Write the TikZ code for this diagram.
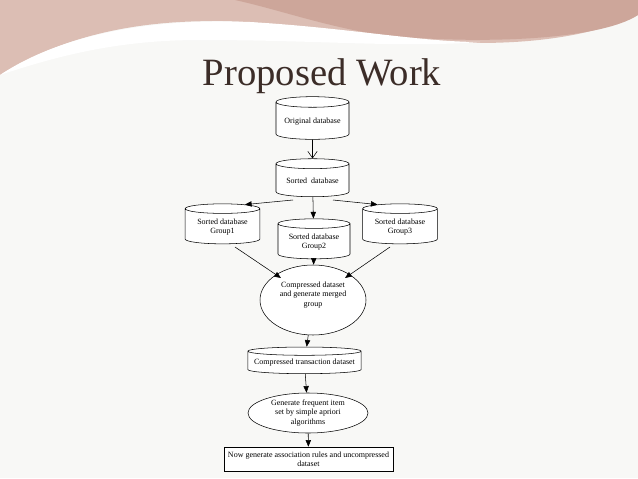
\documentclass[tikz,border=0pt]{standalone}
\usepackage{fontspec}
\setmainfont{Liberation Serif}
\usetikzlibrary{shapes.geometric,arrows.meta}
\definecolor{bg}{RGB}{248,248,246}
\definecolor{wave}{RGB}{205,166,154}
\definecolor{wavel}{RGB}{220,190,180}
\definecolor{ttl}{RGB}{60,45,40}
\begin{document}
\begin{tikzpicture}[x=0.75pt,y=-0.75pt,
  txt/.style={font=\fontsize{6}{7}\selectfont,align=center},
  cyl/.style={txt,draw,fill=white,cylinder,shape border rotate=90,aspect=0.18,inner sep=1pt},
  ell/.style={txt,draw,fill=white,ellipse,inner sep=0pt},
  arr/.style={-{Triangle[length=5pt,width=4pt]}}]
\useasboundingbox (0,0) rectangle (638,478);
\fill[bg] (0,0) rectangle (638,478);
\fill[wavel] (0,0) -- (638,0) -- (638,15) .. controls (560,50) and (450,50) .. (300,27) .. controls (180,12) and (80,25) .. (0,75) -- cycle;
\fill[wave] (235,0) -- (638,0) -- (638,15) .. controls (600,40) and (480,45) .. (380,35) .. controls (320,25) and (280,10) .. (235,0) -- cycle;
\fill[white] (0,75) .. controls (60,35) and (150,18) .. (250,22) .. controls (350,28) and (420,42) .. (480,42) .. controls (400,48) and (320,40) .. (200,40) .. controls (120,40) and (60,55) .. (0,75) -- cycle;
\node[font=\fontsize{29}{32}\selectfont,text=ttl] (title) at (322,76) {Proposed Work};
\node[cyl,minimum width=54.75pt,minimum height=32pt] (orig) at (312.5,121.5) {Original database};
\node[cyl,minimum width=54.75pt,minimum height=28.5pt] (sorted) at (312.5,181) {Sorted\ \ database};
\node[cyl,minimum width=56pt,minimum height=30pt] (g1) at (222.5,227) {Sorted database\\Group1};
\node[cyl,minimum width=54pt,minimum height=30pt] (g2) at (314,242) {Sorted database\\Group2};
\node[cyl,minimum width=56pt,minimum height=30pt] (g3) at (400,227) {Sorted database\\Group3};
\node[ell,minimum width=79.5pt,minimum height=52.5pt] (comp) at (313,300) {};
\node[txt] (comptxt) at (313,295) {Compressed dataset\\and generate merged\\group};
\node[cyl,aspect=0.08,minimum width=85pt,minimum height=20pt] (ctd) at (304.5,363) {Compressed transaction dataset};
\node[ell,minimum width=90pt,minimum height=30pt] (gen) at (308,413) {Generate frequent item\\set by simple apriori\\algorithms};
\node[txt,draw,fill=white,minimum width=127pt,minimum height=18pt,inner sep=1pt] (rules) at (308.5,459) {Now generate association rules and uncompressed\\dataset};
\draw[-{Straight Barb[length=5pt,width=7pt]}] (orig) -- (sorted);
\coordinate (s1) at (293,200);
\coordinate (s3) at (333,200);
\draw[arr] (s1) -- (g1.north east);
\draw[arr] (sorted) -- (g2);
\draw[arr] (s3) -- (g3.north west);
\coordinate (g1b) at (235,247);
\coordinate (g3b) at (390,247);
\draw[arr] (g1b) -- (281,278);
\draw[arr] (g2) -- (comp);
\draw[arr] (g3b) -- (345,278);
\draw[arr] (comp) -- (ctd);
\draw[arr] (ctd) -- (gen);
\draw[arr] (gen) -- (rules);
\end{tikzpicture}
\end{document}
